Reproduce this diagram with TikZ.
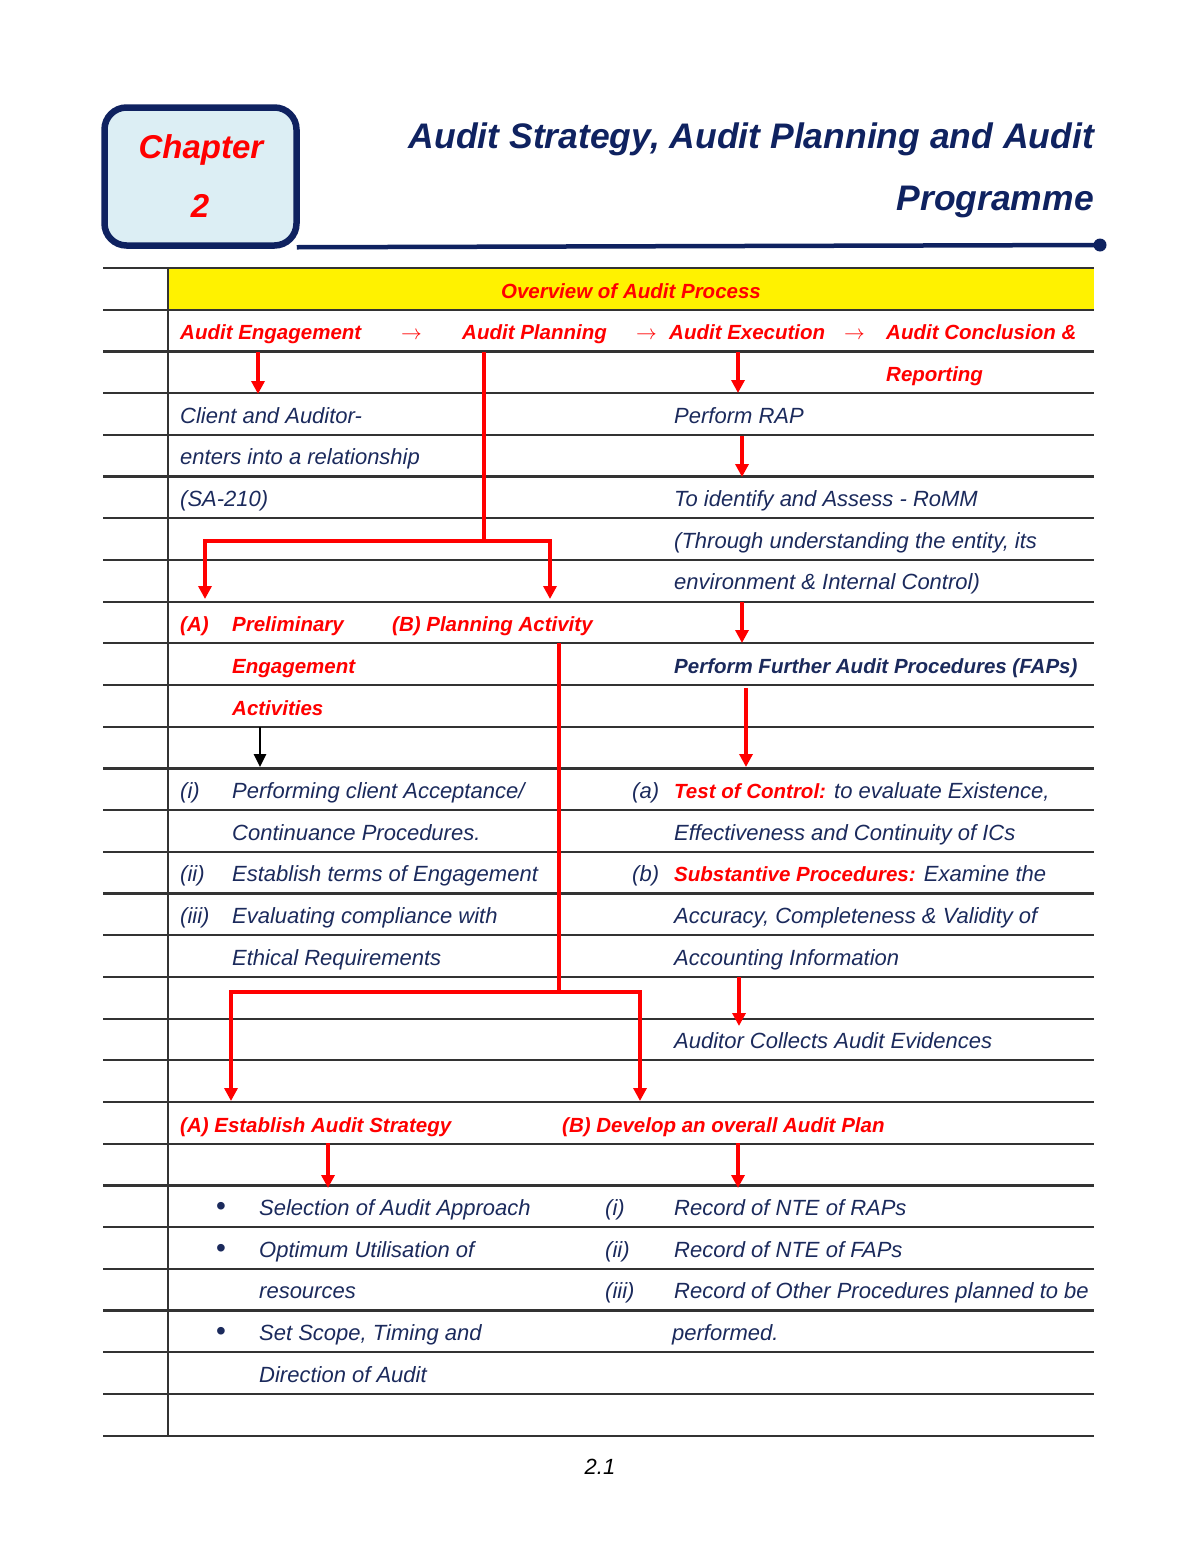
\documentclass[tikz,border=0pt]{standalone}
\usepackage{fontspec}
\setmainfont{Liberation Sans}
\usepackage{xcolor}
\usetikzlibrary{arrows.meta,positioning}

\definecolor{inkblue}{HTML}{1B2A5C}
\definecolor{boxnavy}{HTML}{0F2260}
\definecolor{boxfill}{HTML}{DCEEF4}

\tikzset{
  ruleline/.style={line width=2.2pt, black!80},
  txt/.style={anchor=base west, inner sep=0pt, text=inkblue, font=\fontsize{22}{26}\selectfont\itshape},
  redtxt/.style={txt, text=red, font=\fontsize{20.5}{24}\selectfont\bfseries\itshape},
  flow/.style={red, line width=3.5pt, -{Triangle[length=13pt,width=13pt]}},
  redline/.style={red, line width=3.5pt},
  blackflow/.style={black, line width=2.6pt, -{Triangle[length=13pt,width=12pt]}}
}

\begin{document}
\begin{tikzpicture}[x=1pt, y=-1pt]
    \useasboundingbox (0,0) rectangle (1200,1553);

    % Header
    \node [draw=boxnavy, line width=6.5pt, fill=boxfill, rounded corners=22pt,
           minimum width=192, minimum height=138] (chapbox) at (200.5,176.5) {};
    \node [text=red, font=\fontsize{33}{40}\selectfont\bfseries\itshape] (chap) at (201,150) {Chapter};
    \node [text=red, font=\fontsize{33}{40}\selectfont\bfseries\itshape] (chapno) at (200,206) {2};
    \node [anchor=base east, inner sep=0pt, text=boxnavy, font=\fontsize{35.5}{40}\selectfont\bfseries\itshape] (title1) at (1094,148) {Audit Strategy, Audit Planning and Audit};
    \node [anchor=base east, inner sep=0pt, text=boxnavy, font=\fontsize{35.5}{40}\selectfont\bfseries\itshape] (title2) at (1094,210) {Programme};
    \coordinate (ruleend) at (1100,245);
    \draw [boxnavy, line width=4.5pt] (chapbox.south east) ++(-3,-1.5) coordinate (rulestart) -- (ruleend);
    \fill [boxnavy] (ruleend) circle (6.5);

    % Ruled table
    \fill [yellow] (168,268) rectangle (1094,309.7);
    \foreach \k in {0,...,28}
        \draw [ruleline] (103,{268+41.7*\k}) -- (1094,{268+41.7*\k});
    \draw [ruleline] (168,268) -- (168,1435.6);

    % Nodes
    \node [redtxt, anchor=base] (overview) at (631,{298+41.7*0}) {Overview of Audit Process};
    \node [redtxt] (eng) at (180,{298+41.7*1}) {Audit Engagement};
    \node [redtxt] (arrA) at (401,{298+41.7*1}) {$\rightarrow$};
    \node [redtxt] (plan) at (462,{298+41.7*1}) {Audit Planning};
    \node [redtxt] (arrB) at (636,{298+41.7*1}) {$\rightarrow$};
    \node [redtxt] (exec) at (669,{298+41.7*1}) {Audit Execution};
    \node [redtxt] (arrC) at (844,{298+41.7*1}) {$\rightarrow$};
    \node [redtxt] (concl) at (886,{298+41.7*1}) {Audit Conclusion \&};
    \node [redtxt] (report) at (886,{298+41.7*2}) {Reporting};

    \node [txt] (client) at (180,{298+41.7*3}) {Client and Auditor-};
    \node [txt] (enters) at (180,{298+41.7*4}) {enters into a relationship};
    \node [txt] (sa) at (180,{298+41.7*5}) {(SA-210)};
    \node [txt] (rap) at (674,{298+41.7*3}) {Perform RAP};
    \node [txt] (romm) at (674,{298+41.7*5}) {To identify and Assess - RoMM};
    \node [txt] (through) at (674,{298+41.7*6}) {(Through understanding the entity, its};
    \node [txt] (environ) at (674,{298+41.7*7}) {environment \& Internal Control)};

    \node [redtxt] (prelimA) at (180,{298+41.7*8}) {(A)};
    \node [redtxt] (prelim) at (232,{298+41.7*8}) {Preliminary};
    \node [redtxt] (prelim2) at (232,{298+41.7*9}) {Engagement};
    \node [redtxt] (prelim3) at (232,{298+41.7*10}) {Activities};
    \node [redtxt] (planact) at (392,{298+41.7*8}) {(B) Planning Activity};
    \node [txt, font=\fontsize{20.5}{24}\selectfont\bfseries\itshape] (faps) at (674,{298+41.7*9}) {Perform Further Audit Procedures (FAPs)};

    \node [txt] (li) at (180,{298+41.7*12}) {(i)};
    \node [txt] (accept) at (232,{298+41.7*12}) {Performing client Acceptance/};
    \node [txt] (accept2) at (232,{298+41.7*13}) {Continuance Procedures.};
    \node [txt] (lii) at (180,{298+41.7*14}) {(ii)};
    \node [txt] (terms) at (232,{298+41.7*14}) {Establish terms of Engagement};
    \node [txt] (liii) at (180,{298+41.7*15}) {(iii)};
    \node [txt] (ethics) at (232,{298+41.7*15}) {Evaluating compliance with};
    \node [txt] (ethics2) at (232,{298+41.7*16}) {Ethical Requirements};

    \node [txt] (la) at (632,{298+41.7*12}) {(a)};
    \node [txt] (toc) at (674,{298+41.7*12}) {{\color{red}\fontsize{20.5}{24}\selectfont\bfseries Test of Control:} to evaluate Existence,};
    \node [txt] (toc2) at (674,{298+41.7*13}) {Effectiveness and Continuity of ICs};
    \node [txt] (lb) at (632,{298+41.7*14}) {(b)};
    \node [txt] (subst) at (674,{298+41.7*14}) {{\color{red}\fontsize{20.5}{24}\selectfont\bfseries Substantive Procedures:} Examine the};
    \node [txt] (subst2) at (674,{298+41.7*15}) {Accuracy, Completeness \& Validity of};
    \node [txt] (subst3) at (674,{298+41.7*16}) {Accounting Information};
    \node [txt] (evid) at (674,{298+41.7*18}) {Auditor Collects Audit Evidences};

    \node [redtxt] (strategy) at (180,{298+41.7*20}) {(A) Establish Audit Strategy};
    \node [redtxt] (auditplan) at (562,{298+41.7*20}) {(B) Develop an overall Audit Plan};

    \node [txt, font=\fontsize{28}{30}\selectfont] (b1) at (216,{298+41.7*22}) {•};
    \node [txt] (approach) at (259,{298+41.7*22}) {Selection of Audit Approach};
    \node [txt, font=\fontsize{28}{30}\selectfont] (b2) at (216,{298+41.7*23}) {•};
    \node [txt] (optimum) at (259,{298+41.7*23}) {Optimum Utilisation of};
    \node [txt] (optimum2) at (259,{298+41.7*24}) {resources};
    \node [txt, font=\fontsize{28}{30}\selectfont] (b3) at (216,{298+41.7*25}) {•};
    \node [txt] (scope) at (259,{298+41.7*25}) {Set Scope, Timing and};
    \node [txt] (scope2) at (259,{298+41.7*26}) {Direction of Audit};

    \node [txt] (pi) at (605,{298+41.7*22}) {(i)};
    \node [txt] (nterap) at (674,{298+41.7*22}) {Record of NTE of RAPs};
    \node [txt] (pii) at (605,{298+41.7*23}) {(ii)};
    \node [txt] (ntefap) at (674,{298+41.7*23}) {Record of NTE of FAPs};
    \node [txt] (piii) at (605,{298+41.7*24}) {(iii)};
    \node [txt] (other) at (674,{298+41.7*24}) {Record of Other Procedures planned to be};
    \node [txt] (other2) at (672,{298+41.7*25}) {performed.};

    \node [txt, anchor=base, text=black] (pageno) at (600,1474) {2.1};

    % Connector points
    \coordinate (engfrom) at (258,352);   \coordinate (engto) at (258,394);
    \coordinate (planfrom) at (484,352);  \coordinate (planjoin) at (484,541);
    \coordinate (prelimto) at (205,599);  \coordinate (planactto) at (550,599);
    \coordinate (execfrom) at (738,352);  \coordinate (execto) at (738,393);
    \coordinate (rapfrom) at (742,436);   \coordinate (rapto) at (742,477);
    \coordinate (rommfrom) at (742,602);  \coordinate (rommto) at (742,643);
    \coordinate (actfrom) at (559,643);   \coordinate (actjoin) at (559,992);
    \coordinate (strategyto) at (231,1101); \coordinate (auditplanto) at (640,1101);
    \coordinate (prelimfrom) at (260,727); \coordinate (prelimbto) at (260,767);
    \coordinate (fapsfrom) at (746,688);  \coordinate (fapsto) at (746,767);
    \coordinate (subfrom) at (739,977);   \coordinate (subto) at (739,1026);
    \coordinate (stratfrom) at (328,1143); \coordinate (stratto) at (328,1188);
    \coordinate (apfrom) at (738,1143);   \coordinate (apto) at (738,1188);

    % Path
    \draw [flow] (engfrom) -- (engto);
    \draw [redline] (planfrom) -- (planjoin);
    \draw [flow] (planjoin) -| (prelimto);
    \draw [flow] (planjoin) -| (planactto);
    \draw [flow] (execfrom) -- (execto);
    \draw [flow] (rapfrom) -- (rapto);
    \draw [flow] (rommfrom) -- (rommto);
    \draw [redline] (actfrom) -- (actjoin);
    \draw [flow] (actjoin) -| (strategyto);
    \draw [flow] (actjoin) -| (auditplanto);
    \draw [blackflow] (prelimfrom) -- (prelimbto);
    \draw [flow] (fapsfrom) -- (fapsto);
    \draw [flow] (subfrom) -- (subto);
    \draw [flow] (stratfrom) -- (stratto);
    \draw [flow] (apfrom) -- (apto);
\end{tikzpicture}
\end{document}
